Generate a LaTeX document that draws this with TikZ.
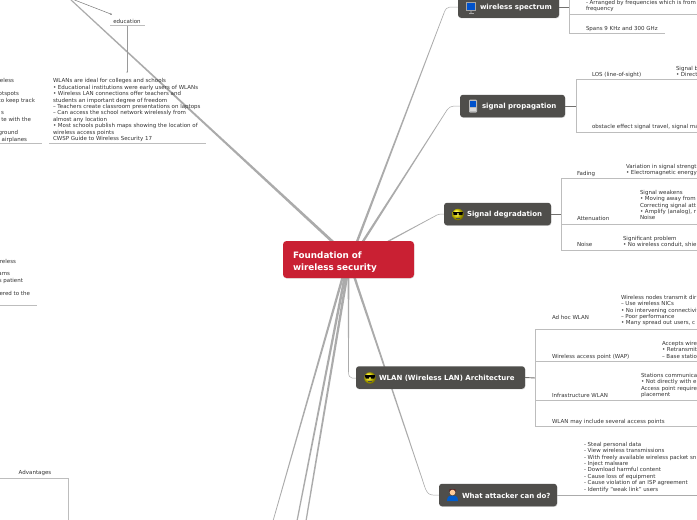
\documentclass[tikz,border=0pt]{standalone}
\usepackage{fontspec}
\setmainfont{DejaVu Sans}
\usetikzlibrary{calc,shadows,arrows.meta}
\definecolor{rootred}{HTML}{C92033}
\definecolor{topicgrey}{HTML}{4F4E4B}
\definecolor{linkgrey}{HTML}{ABABAB}
\definecolor{rulegrey}{HTML}{BDBDBD}
\definecolor{inkgrey}{HTML}{333333}
\tikzset{
  x=1pt,y=-1pt,
  rootnode/.style={fill=rootred,rounded corners=3.5pt,minimum width=131pt,minimum height=37pt,inner sep=0pt,outer sep=0pt,font=\bfseries\fontsize{8.8}{12}\selectfont,text=white,
    drop shadow={shadow xshift=0.4pt,shadow yshift=-0.6pt,opacity=0.25}},
  topic/.style={fill=topicgrey,rounded corners=3pt,minimum height=22.5pt,inner sep=0pt,outer sep=0pt,font=\bfseries\fontsize{7}{8}\selectfont,text=white,align=left,
    drop shadow={shadow xshift=0.4pt,shadow yshift=-0.7pt,opacity=0.3}},
  note/.style={anchor=north west,align=left,inner sep=0pt,outer sep=0pt,text=inkgrey,font=\fontsize{5.5}{6.45}\selectfont,yshift=-1pt},
  notee/.style={note,anchor=north east,align=right},
  label/.style={inner sep=0pt,text=inkgrey,font=\fontsize{5.5}{6.45}\selectfont,yshift=-0.7pt},
  link/.style={draw=linkgrey,line width=0.7pt,line join=round},
  treeline/.style={draw=rulegrey,line width=0.9pt},
  stem/.style={draw=topicgrey!80,line width=0.9pt},
}
% a link that narrows from half width #3 at #1 to half width #4 at #2
\newcommand{\taperlink}[4]{%
  \fill[linkgrey] ($(#1)!#3!90:(#2)$) -- ($(#1)!#3!-90:(#2)$) -- ($(#2)!#4!90:(#1)$) -- ($(#2)!#4!-90:(#1)$) -- cycle;
}
\newcommand{\topictext}[2]{\hspace*{#1}\rule{0pt}{6.6pt}#2}
\newcommand{\smiley}[2]{%
  \begin{scope}[shift={(#1,#2)}]
    \shade[ball color=yellow!90!orange] (0,0) circle[radius=5.8];
    \fill[black] (-5,-2.6) rectangle (5,-1.4);
    \fill[black,rounded corners=0.8pt] (-4.7,-2.3) rectangle (-0.6,0.7);
    \fill[black,rounded corners=0.8pt] (0.6,-2.3) rectangle (4.7,0.7);
    \draw[black!70,line width=0.35pt] (-1.8,3.2) -- (1.8,3.2);
  \end{scope}}
\begin{document}
\begin{tikzpicture}
\useasboundingbox (0,0) rectangle (697,520);
\fill[white] (0,0) rectangle (697,520);

% coordinates at the ends of the main links
\coordinate (rA) at (334,243);
\coordinate (farA) at (70,-1);
\coordinate (rB) at (356.5,243);
\coordinate (kB) at (444,13);
\coordinate (rC) at (362,243);
\coordinate (kC) at (447,110);
\coordinate (rD) at (385,243);
\coordinate (kD) at (437,215);
\coordinate (rE) at (348.5,276);
\coordinate (kE) at (348.5,372);
\coordinate (rF) at (354,276);
\coordinate (kF) at (425.5,489);
\coordinate (rG) at (343,276);
\coordinate (farG) at (273,521);
\coordinate (rH) at (345,276);
\coordinate (farH) at (297,521);
\coordinate (rI) at (347,276);
\coordinate (farI) at (306,521);

% links drawn under the nodes
\coordinate (eSpec) at (458,7);
\coordinate (eProp) at (460,106);
\coordinate (eDeg) at (444,214);
\coordinate (eWlan) at (356,378);
\coordinate (eAtt) at (439,495);
\taperlink{rA}{farA}{1.4pt}{0.55pt}
\draw[link,line width=0.5pt] (kB) .. controls (445.5,9) and (447,7) .. (450,7) -- (eSpec);
\taperlink{rB}{kB}{1.2pt}{0.3pt}
\draw[link,line width=0.5pt] (kC) .. controls (449,107.5) and (451,106) .. (454,106) -- (eProp);
\taperlink{rC}{kC}{1.2pt}{0.3pt}
\draw[link,line width=0.5pt] (kD) .. controls (439,214.2) and (440,214) .. (eDeg);
\taperlink{rD}{kD}{0.7pt}{0.28pt}
\draw[link,line width=0.5pt] (kE) .. controls (348.5,376) and (350,378) .. (352,378) -- (eWlan);
\taperlink{rE}{kE}{0.9pt}{0.28pt}
\draw[link,line width=0.5pt] (kF) .. controls (427.5,493) and (429,495) .. (433,495) -- (eAtt);
\taperlink{rF}{kF}{1.2pt}{0.3pt}
\taperlink{rG}{farG}{1.2pt}{0.35pt}
\taperlink{rH}{farH}{1.3pt}{0.6pt}
\taperlink{rI}{farI}{1.3pt}{0.6pt}

% root above its links
\path (348.5,259.5) node[rootnode,text width=131pt,align=left] (root) {\hspace*{10pt}\rule{0pt}{12.5pt}Foundation of\\\hspace*{10pt}wireless security};

% topics
\path (508.5,6.5) node[topic,minimum width=101pt,text width=101pt] (spectrum) {\topictext{22pt}{wireless spectrum}};
\path (512.5,106) node[topic,minimum width=105pt,text width=105pt] (propagation) {\topictext{22pt}{signal propagation}};
\path (497.5,214) node[topic,minimum width=107pt,text width=107pt] (degradation) {\topictext{23pt}{Signal degradation}};
\path (440.5,377.5) node[topic,minimum width=169pt,text width=169pt] (wlan) {\topictext{23pt}{WLAN (Wireless LAN) Architecture}};
\path (498,495) node[topic,minimum width=118pt,text width=118pt] (attacker) {\topictext{23pt}{What attacker can do?}};

% icons
\begin{scope}[shift={(471,7)}]
  \fill[black!35] (-2.5,5.5) rectangle (2.5,6.6);
  \fill[black!55] (-1,4) rectangle (1,5.5);
  \fill[gray!70] (-5.3,-5) rectangle (5.3,4.2);
  \fill[blue!60!cyan!80!black] (-4.3,-4) rectangle (4.3,3.2);
\end{scope}
\begin{scope}[shift={(473,106)}]
  \fill[gray!55,rounded corners=1pt] (-4,-6.5) rectangle (4,6.5);
  \fill[blue!60!cyan!80!black] (-2.8,-5) rectangle (2.8,0.5);
  \fill[gray!30] (-2.8,1.5) rectangle (2.8,5.3);
\end{scope}
\smiley{458}{214.5}
\smiley{370}{378}
\begin{scope}[shift={(452.5,495)}]
  \fill[blue!55!cyan!80!black] (-5.5,6) .. controls (-5.5,1) and (-3,0.5) .. (0,0.5) .. controls (3,0.5) and (5.5,1) .. (5.5,6) -- cycle;
  \fill[orange!40!white] (0,-2.5) circle[radius=2.8];
  \fill[red!45!black] (-2.8,-3.3) arc[start angle=180,end angle=360,radius=2.8] -- (2.8,-5.6) -- (-2.8,-5.6) -- cycle;
  \fill[orange!40!white] (-2.1,-3.6) rectangle (2.1,-1.5);
\end{scope}

% tree lines: wireless spectrum
\coordinate (specV) at (569.5,7);
\draw[stem] (spectrum.east |- specV) -- (specV);
\draw[treeline] (569.5,-1) -- (569.5,33) -- (665,33);
\draw[treeline] (569.5,14) -- (698,14);
\node[note] (n1) at (586,-1) {- Arranged by frequencies which is from\\frequency};
\node[note] (n2) at (586,25) {Spans 9 KHz and 300 GHz};

% signal propagation
\coordinate (propV) at (576,106);
\draw[stem] (propagation.east) -- (propV);
\draw[treeline] (698,79.5) -- (576,79.5) -- (576,132.5) -- (698,132.5);
\node[note] (n3) at (592,71) {LOS (line-of-sight)};
\node[note] (n4) at (676,65) {Signal b\\• Direct};
\node[note] (n5) at (592,123) {obstacle effect signal travel, signal ma};

% signal degradation
\coordinate (degV) at (561,214);
\draw[stem] (degradation.east) -- (degV);
\draw[treeline] (698,178) -- (561,178) -- (561,250) -- (698,250);
\draw[treeline] (561,224) -- (698,224);
\node[note] (n6) at (577,170) {Fading};
\node[note] (n7) at (626,163) {Variation in signal strengt\\• Electromagnetic energy};
\node[note] (n8) at (577,215) {Attenuation};
\node[note] (n9) at (640,189) {Signal weakens\\• Moving away from\\Correcting signal att\\• Amplify (analog), r\\Noise};
\node[note] (n10) at (577,241) {Noise};
\node[note] (n11) at (623,235) {Significant problem\\• No wireless conduit, shie};

% WLAN
\coordinate (wlanV) at (535.5,378);
\draw[stem] (wlan.east) -- (wlanV);
\draw[treeline] (698,329) -- (535.5,329) -- (535.5,426.5) -- (698,426.5);
\draw[treeline] (535.5,361.5) -- (698,361.5);
\draw[treeline] (535.5,400.5) -- (698,400.5);
\node[note] (n12) at (552,314) {Ad hoc WLAN};
\node[note] (n13) at (621,294) {Wireless nodes transmit dir\\– Use wireless NICs\\• No intervening connectivit\\– Poor performance\\• Many spread out users, c};
\node[note] (n14) at (552,353) {Wireless access point (WAP)};
\node[note] (n15) at (662,340) {Accepts wire\\• Retransmit\\– Base statio};
\node[note] (n16) at (552,392) {Infrastructure WLAN};
\node[note] (n17) at (641,372) {Stations communica\\• Not directly with e\\Access point require\\placement};
\node[note] (n18) at (552,418) {WLAN may include several access points};

% attacker
\coordinate (attEnd) at (698,495);
\draw[link] (attacker.east) -- (attEnd);
\node[note] (n19) at (584,441) {- Steal personal data\\- View wireless transmissions\\- With freely available wireless packet sn\\- Inject malware\\- Download harmful content\\- Cause loss of equipment\\- Cause violation of an ISP agreement\\- Identify ``weak link'' users};

% education branch
\node[label] (edu) at (127,21) {education};
\coordinate (eduFrom) at (72,-1);
\coordinate (eduUL) at (127,25.5);
\coordinate (eduDown) at (127,72);
\draw[draw=linkgrey!70!black,line width=0.5pt,-{Stealth[length=2pt,width=2pt]}] (eduFrom) -- (112,14.5);
\draw[treeline] (110,25.5) -- (145,25.5);
\draw[draw=linkgrey!90!black,line width=0.7pt] (eduUL) -- (eduDown);
\fill[inkgrey] (eduDown) circle[radius=0.5];
\node[note] (n20) at (53,77.5) {WLANs are ideal for colleges and schools\\• Educational institutions were early users of WLANs\\• Wireless LAN connections offer teachers and\\students an important degree of freedom\\– Teachers create classroom presentations on laptops\\– Can access the school network wirelessly from\\almost any location\\• Most schools publish maps showing the location of\\wireless access points\\CWSP Guide to Wireless Security 17};
\draw[treeline] (49,143.5) -- (206,143.5);

% clipped texts on the left
\node[notee] (n21) at (14,77.5) {eless};
\node[notee] (n22) at (19,90.5) {otspots};
\node[notee] (n23) at (35,97) {to keep track};
\node[notee] (n24) at (4,110) {s};
\node[notee] (n25) at (31,116.5) {te with the};
\node[notee] (n26) at (18,129.5) {ground};
\node[notee] (n27) at (27,136) {airplanes};
\draw[treeline] (-1,143.5) -- (42,143.5);
\node[notee] (n28) at (16,258) {reless};
\node[notee] (n29) at (10,271) {ams};
\node[notee] (n30) at (23,277) {s patient};
\node[notee] (n31) at (30,290) {ered to the};
\draw[treeline] (-1,305) -- (37,305);

% advantages
\node[label] (adv) at (35,472) {Advantages};
\draw[treeline] (-1,478) -- (68,478) -- (68,521);
\end{tikzpicture}
\end{document}
